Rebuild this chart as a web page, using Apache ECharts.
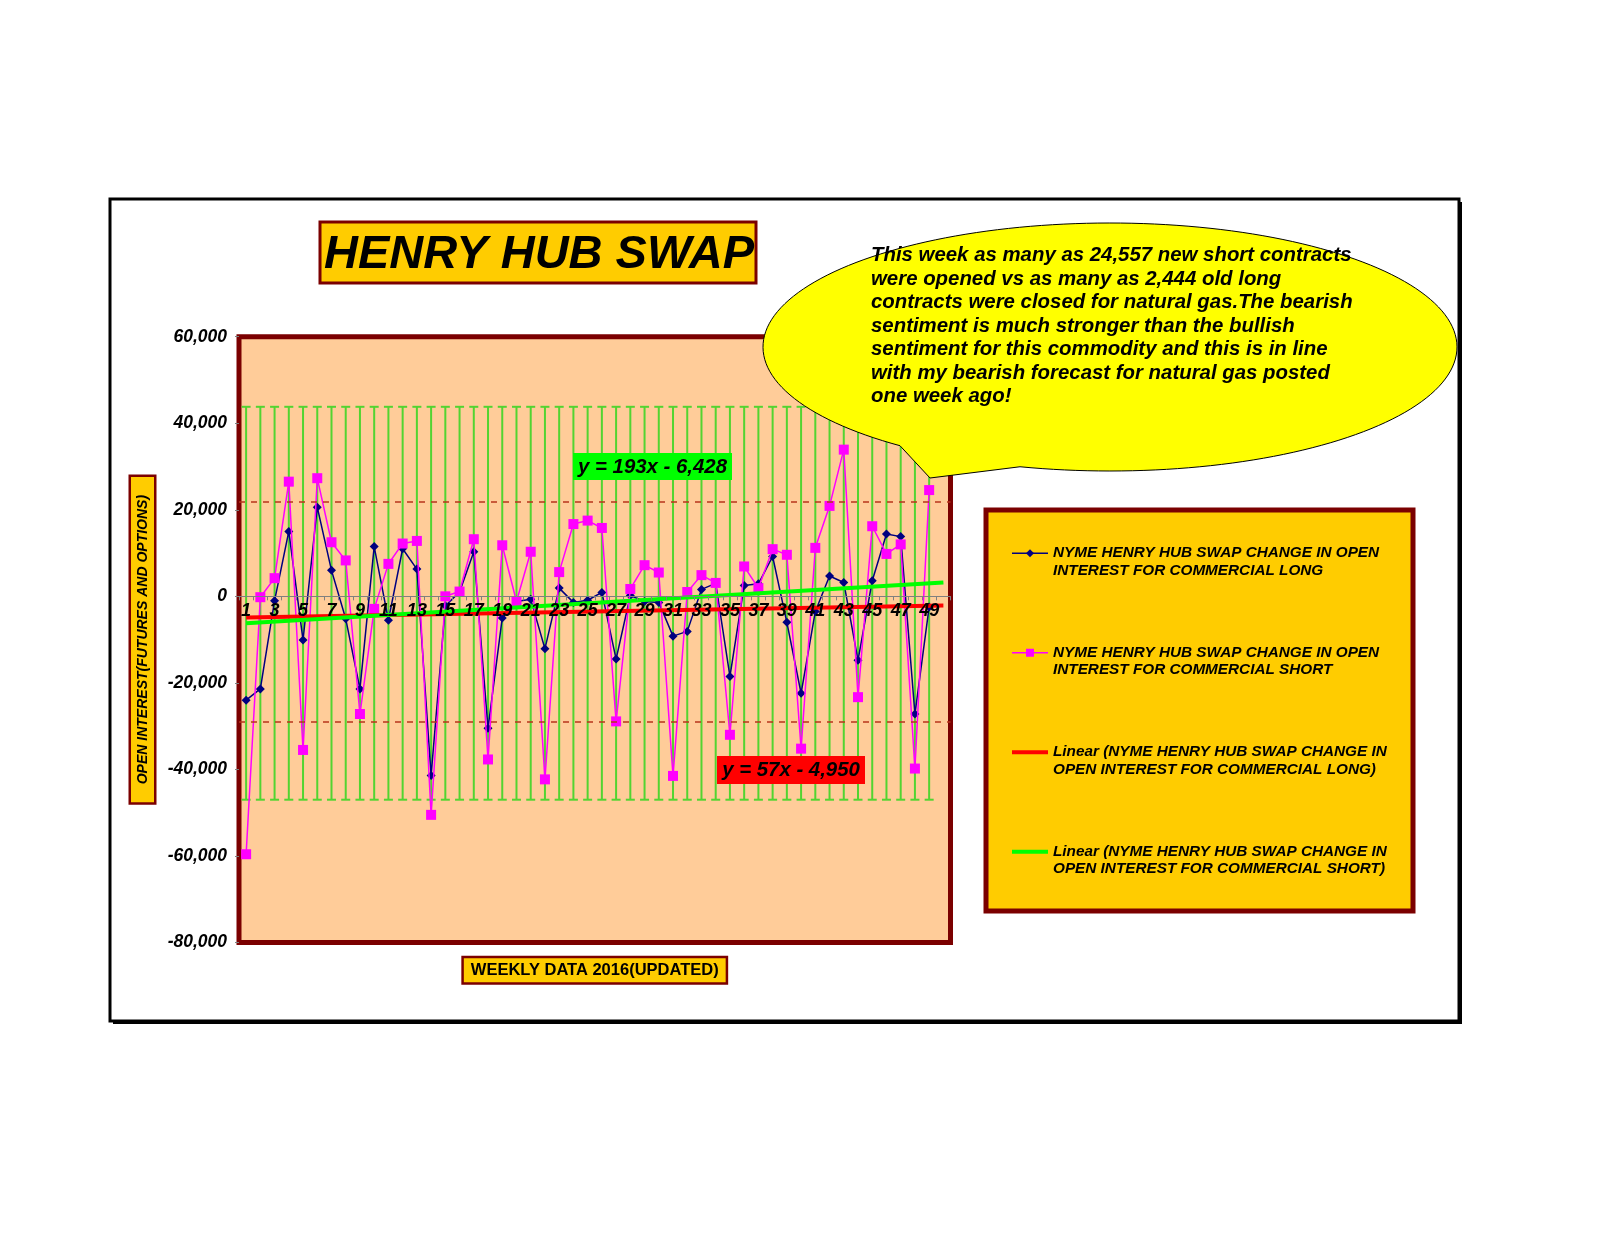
<!DOCTYPE html>
<html>
<head>
<meta charset="utf-8">
<script src="https://cdn.jsdelivr.net/npm/echarts@6/dist/echarts.min.js"></script>
<style>
html,body{margin:0;padding:0;background:#ffffff;}
#chart{width:1600px;height:1237px;}
</style>
</head>
<body>
<div id="chart"></div>
<script>
// ---------- DATA ----------
const weeks = ['1','2','3','4','5','6','7','8','9','10','11','12','13','14','15','16','17','18','19','20',
  '21','22','23','24','25','26','27','28','29','30','31','32','33','34','35','36','37','38','39','40',
  '41','42','43','44','45','46','47','48','49','50'];

const commercialLong = [
  -24000, -21400, -1000, 15000, -10100, 20600, 6000, -5200, -21400, 11500,
  -5500, 11000, 6300, -41400, -2200, 1000, 10300, -30500, -5000, -1200,
  -700, -12100, 1900, -1400, -900, 900, -14500, 200, -1200, -1400,
  -9200, -8100, 1600, 3000, -18500, 2500, 2900, 9200, -6000, -22400,
  -3500, 4700, 3200, -14800, 3600, 14400, 13800, -27200, -2444
];

const commercialShort = [
  -59600, -200, 4200, 26500, -35500, 27300, 12500, 8300, -27200, -2900,
  7500, 12200, 12800, -50500, 0, 1100, 13200, -37700, 11800, -1200,
  10300, -42300, 5600, 16700, 17500, 15800, -28900, 1700, 7200, 5500,
  -41500, 1000, 4900, 3100, -32000, 6900, 1900, 10900, 9600, -35200,
  11200, 20900, 33900, -23300, 16200, 9800, 12000, -39800, 24557
];

// trend lines (endpoints at week 1 and week 50, from the equations shown)
const trendLong  = [['1', -4893], ['50', -2100]];   // y = 57x - 4,950
const trendShort = [['1', -6235], ['50', 3222]];    // y = 193x - 6,428

// green vertical bars (upper / lower band) and dashed reference levels
const bandUpper = 43800;
const bandLower = -47000;
const refLevels = [21900, -29000];

const yTicks = { min: -80000, max: 60000, interval: 20000 };

const nameLong  = 'NYME HENRY HUB SWAP CHANGE IN OPEN\nINTEREST FOR COMMERCIAL LONG';
const nameShort = 'NYME HENRY HUB SWAP CHANGE IN OPEN\nINTEREST FOR COMMERCIAL SHORT';
const nameTrendLong  = 'Linear (NYME HENRY HUB SWAP CHANGE IN\nOPEN INTEREST FOR COMMERCIAL LONG)';
const nameTrendShort = 'Linear (NYME HENRY HUB SWAP CHANGE IN\nOPEN INTEREST FOR COMMERCIAL SHORT)';

const calloutText = [
  'This week as many as 24,557 new short contracts',
  'were opened vs as many as 2,444 old long',
  'contracts were closed for natural gas.The bearish',
  'sentiment is much stronger than the bullish',
  'sentiment for this commodity and this is in line',
  'with my bearish forecast for natural gas posted',
  'one week ago!'
];

// ---------- CHART ----------
const FONT = '"Liberation Sans", Arial, sans-serif';
const chart = echarts.init(document.getElementById('chart'), null, { renderer: 'canvas' });

const GRID = { left: 239, top: 336.7, right: 649.5, bottom: 294.5 };
const gridH = 1237 - GRID.top - GRID.bottom;
// place the category axis at value 0 (offset from the grid bottom)
const zeroOffset = gridH * (0 - yTicks.min) / (yTicks.max - yTicks.min);

const bandData = commercialLong.map((v, i) => [i, bandUpper, bandLower]);

// callout balloon outline: ellipse with a tail pointing down-left
const cx = 1110, cy = 347, rx = 347, ry = 124;
function ellPoint(a) { return [cx + rx * Math.cos(a), cy + ry * Math.sin(a)]; }
const a1 = Math.PI - Math.acos((cx - 900) / rx);
const a2 = Math.PI - Math.acos((cx - 1020) / rx);
const balloon = [];
const N = 180;
for (let k = 0; k <= N; k++) {
  const a = a2 - (a2 - (a1 - 2 * Math.PI)) * k / N;
  balloon.push(ellPoint(a));
}
balloon.push([930, 478]);

const legendText = { fontFamily: FONT, fontStyle: 'italic', fontWeight: 'bold', fontSize: 15.3, lineHeight: 17.5, color: '#000' };

const option = {
  animation: false,
  backgroundColor: '#ffffff',
  grid: {
    left: GRID.left, top: GRID.top, right: GRID.right, bottom: GRID.bottom,
    containLabel: false, outerBoundsMode: 'none',
    show: true, backgroundColor: '#FFCC99', borderColor: '#7B0000', borderWidth: 5
  },
  legend: {
    orient: 'vertical', left: 1005, top: 522,
    itemWidth: 36, itemHeight: 10, itemGap: 47,
    selectedMode: false,
    lineStyle: { width: 'inherit' },
    data: [nameLong, nameShort, nameTrendLong, nameTrendShort],
    // blank first line keeps the icon level with the first text line
    formatter: function (name) { return ' \n' + name; },
    textStyle: legendText
  },
  xAxis: {
    type: 'category', data: weeks, boundaryGap: true, z: 10,
    position: 'bottom', offset: -zeroOffset,
    axisLine: { onZero: false, lineStyle: { color: '#808080', width: 1 } },
    axisTick: { show: true, interval: 0, length: 4, lineStyle: { color: '#808080' } },
    axisLabel: { interval: 1, margin: 6, fontFamily: FONT, fontStyle: 'italic', fontWeight: 'bold', fontSize: 18, color: '#000' },
    splitLine: { show: false },
    name: 'WEEKLY DATA 2016(UPDATED)', nameLocation: 'middle', nameGap: 362,
    nameTextStyle: {
      fontFamily: FONT, fontWeight: 'bold', fontSize: 16.5, color: '#000', verticalAlign: 'top',
      backgroundColor: '#FFCC00', borderColor: '#7B0000', borderWidth: 2.5, padding: [4, 7, 3, 7]
    }
  },
  yAxis: {
    type: 'value', min: yTicks.min, max: yTicks.max, interval: yTicks.interval,
    axisLine: { show: false },
    axisTick: { show: true, length: 4, lineStyle: { color: '#808080' } },
    splitLine: { show: false },
    axisLabel: { margin: 12, fontFamily: FONT, fontStyle: 'italic', fontWeight: 'bold', fontSize: 17.5, color: '#000' },
    name: 'OPEN INTEREST(FUTURES AND OPTIONS)', nameLocation: 'middle', nameRotate: 90, nameGap: 85,
    nameTextStyle: {
      fontFamily: FONT, fontStyle: 'italic', fontWeight: 'bold', fontSize: 14, color: '#000',
      backgroundColor: '#FFCC00', borderColor: '#7B0000', borderWidth: 2.5, padding: [5, 18, 4, 18]
    }
  },
  series: [
    {
      type: 'custom', name: 'band', z: 1, silent: true,
      data: bandData,
      encode: { x: 0, y: [1, 2] },
      renderItem: function (params, api) {
        const x = api.value(0);
        const top = api.coord([x, api.value(1)]);
        const bot = api.coord([x, api.value(2)]);
        const cap = 4.5;
        const st = { stroke: '#52D431', lineWidth: 2 };
        return {
          type: 'group', children: [
            { type: 'line', shape: { x1: top[0], y1: top[1], x2: bot[0], y2: bot[1] }, style: st },
            { type: 'line', shape: { x1: top[0] - cap, y1: top[1], x2: top[0] + cap, y2: top[1] }, style: st },
            { type: 'line', shape: { x1: bot[0] - cap, y1: bot[1], x2: bot[0] + cap, y2: bot[1] }, style: st }
          ]
        };
      }
    },
    {
      type: 'line', name: nameLong, z: 3, data: commercialLong,
      symbol: 'diamond', symbolSize: 9, showAllSymbol: true,
      itemStyle: { color: '#000080' },
      lineStyle: { color: '#000080', width: 1.5 },
      markLine: {
        silent: true, symbol: 'none', label: { show: false },
        lineStyle: { color: '#B8341B', type: [6, 6], width: 1.5 },
        data: refLevels.map(v => ({ yAxis: v }))
      }
    },
    {
      type: 'line', name: nameShort, z: 4, data: commercialShort,
      symbol: 'rect', symbolSize: 10, showAllSymbol: true,
      itemStyle: { color: '#FF00FF' },
      lineStyle: { color: '#FF00FF', width: 1.5 }
    },
    {
      type: 'line', name: nameTrendLong, z: 5, data: trendLong,
      symbol: 'line', showSymbol: false, lineStyle: { color: '#FF0000', width: 4 }, itemStyle: { color: '#FF0000' }
    },
    {
      type: 'line', name: nameTrendShort, z: 6, data: trendShort,
      symbol: 'line', showSymbol: false, lineStyle: { color: '#00FF00', width: 4 }, itemStyle: { color: '#00FF00' }
    }
  ],
  graphic: [
    // outer frame
    { type: 'rect', z: 0, shape: { x: 110, y: 199, width: 1349, height: 822 },
      style: { fill: 'none', stroke: '#000', lineWidth: 3 } },
    { type: 'polyline', z: 0, shape: { points: [[1461, 202], [1461, 1023], [113, 1023]] },
      style: { fill: 'none', stroke: '#000', lineWidth: 2 } },
    // title
    { type: 'rect', z: 0, shape: { x: 320, y: 222, width: 436, height: 61 },
      style: { fill: '#FFCC00', stroke: '#7B0000', lineWidth: 3 } },
    { type: 'text', z: 1, x: 539, y: 255,
      style: { text: 'HENRY HUB SWAP', font: 'italic bold 47px ' + FONT, fill: '#000', align: 'center', verticalAlign: 'middle' } },
    // legend box
    { type: 'rect', z: 0, shape: { x: 986, y: 510, width: 427, height: 401 },
      style: { fill: '#FFCC00', stroke: '#7B0000', lineWidth: 5 } },
    // callout
    { type: 'polygon', z: 20, shape: { points: balloon },
      style: { fill: '#FFFF00', stroke: '#000', lineWidth: 1 } },
    { type: 'text', z: 21, x: 871, y: 244,
      style: { text: calloutText.join('\n'), font: 'italic bold 20.4px ' + FONT, lineHeight: 23.5, fill: '#000', align: 'left', verticalAlign: 'top' } },
    // equation labels
    { type: 'rect', z: 20, shape: { x: 573, y: 453, width: 159, height: 27 }, style: { fill: '#00FF00' } },
    { type: 'text', z: 21, x: 652.5, y: 467,
      style: { text: 'y = 193x - 6,428', font: 'italic bold 20.4px ' + FONT, fill: '#000', align: 'center', verticalAlign: 'middle' } },
    { type: 'rect', z: 20, shape: { x: 717, y: 756, width: 148, height: 28 }, style: { fill: '#FF0000' } },
    { type: 'text', z: 21, x: 791, y: 770,
      style: { text: 'y = 57x - 4,950', font: 'italic bold 20.4px ' + FONT, fill: '#000', align: 'center', verticalAlign: 'middle' } }
  ]
};

chart.setOption(option);
</script>
</body>
</html>
